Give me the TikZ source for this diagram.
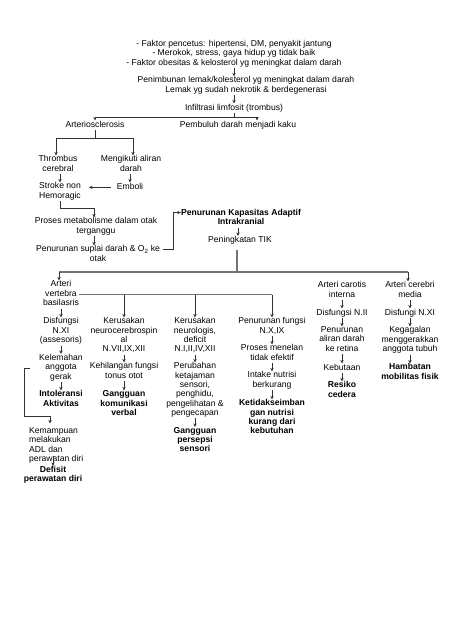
\documentclass[tikz,border=0pt]{standalone}
\usepackage{fontspec}
\setmainfont{Liberation Sans}
\usetikzlibrary{arrows.meta,calc}
\begin{document}
\begin{tikzpicture}[x=1pt,y=-1pt,
  t/.style={inner sep=0pt, align=center, anchor=north, font=\fontsize{8.6}{9.3}\selectfont,
            execute at begin node=\strut, execute at end node=\strut},
  tb/.style={t, font=\fontsize{8.6}{9.3}\selectfont\bfseries},
  ln/.style={draw=black!80, line width=0.7pt},
  bus/.style={draw=black!55, line width=1.1pt},
  arr/.style={ln, -{Stealth[length=3.6pt,width=3.4pt]}},
]
\fill[white] (0,0) rectangle (474,632);
\useasboundingbox (0,0) rectangle (474,632);

% top block
\node[t] (f1) at (234,40) {- Faktor pencetus: hipertensi, DM, penyakit jantung\\- Merokok, stress, gaya hidup yg tidak baik\\- Faktor obesitas \& kelosterol yg meningkat dalam darah};
\node[t] (pen) at (246,76.5) {Penimbunan lemak/kolesterol yg meningkat dalam darah\\Lemak yg sudah nekrotik \& berdegenerasi};
\node[t] (inf) at (234,103.5) {Infiltrasi limfosit (trombus)};
\node[t] (art) at (95,120.5) {Arteriosclerosis};
\node[t] (pem) at (238,120.5) {Pembuluh darah menjadi kaku};

\node[t] (thr) at (58,155.5) {Thrombus\\cerebral};
\node[t] (mng) at (131,155.5) {Mengikuti aliran\\darah};
\node[t] (str) at (60,182.5) {Stroke non\\Hemoragic};
\node[t] (emb) at (130,182.5) {Emboli};
\node[t] (pro) at (96,217.5) {Proses metabolisme dalam otak\\terganggu};
\node[t] (sup) at (98,245.5) {Penurunan suplai darah \& O\textsubscript{2} ke\\otak};
\node[tb] (kap) at (241,209) {Penurunan Kapasitas Adaptif\\Intrakranial};
\node[t] (tik) at (240,236) {Peningkatan TIK};

% lower columns
\node[t] (avb) at (61,280.5) {Arteri\\vertebra\\basilasris};
\node[t] (ds1) at (61,317.5) {Disfungsi\\N.XI\\(assesoris)};
\node[t] (kel) at (61,354) {Kelemahan\\anggota\\gerak};
\node[tb] (int) at (61,390.5) {Intoleransi\\Aktivitas};
\node[t, anchor=north west, align=left] (kem) at (29,427.5) {Kemampuan\\melakukan\\ADL dan\\perawatan diri};
\node[tb] (def) at (53,466) {Defisit\\perawatan diri};

\node[t] (kn) at (124,317.5) {Kerusakan\\neurocerebrospin\\al\\N.VII,IX,XII};
\node[t] (kh) at (124,362.5) {Kehilangan fungsi\\tonus otot};
\node[tb] (gk) at (124,390.5) {Gangguan\\komunikasi\\verbal};

\node[t] (kr) at (195,317.5) {Kerusakan\\neurologis,\\deficit\\N.I,II,IV,XII};
\node[t] (pb) at (195,362.5) {Perubahan\\ketajaman\\sensori,\\penghidu,\\pengelihatan \&\\pengecapan};
\node[tb] (gp) at (195,427) {Gangguan\\persepsi\\sensori};

\node[t] (pf) at (272,317.5) {Penurunan fungsi\\N.X,IX};
\node[t] (pm) at (272,344.5) {Proses menelan\\tidak efektif};
\node[t] (inn) at (272,371.5) {Intake nutrisi\\berkurang};
\node[tb] (ke) at (272,399.5) {Ketidakseimban\\gan nutrisi\\kurang dari\\kebutuhan};

\node[t] (ac) at (342,281.5) {Arteri carotis\\interna};
\node[t] (dn) at (342,308.5) {Disfungsi N.II};
\node[t] (pa) at (342,326.5) {Penurunan\\aliran darah\\ke retina};
\node[t] (kb) at (342,363.5) {Kebutaan};
\node[tb] (rc) at (342,381.5) {Resiko\\cedera};

\node[t] (am) at (410,281.5) {Arteri cerebri\\media};
\node[t] (df) at (410,308.5) {Disfungi N.XI};
\node[t] (kg) at (410,326.5) {Kegagalan\\menggerakkan\\anggota tubuh};
\node[tb] (hm) at (410,363.5) {Hambatan\\mobilitas fisik};

% coordinates
\coordinate (j0) at (234,117);
\coordinate (j1) at (95,138);
\coordinate (busL) at (59,272);
\coordinate (busR) at (408,272);

% connectors top
\draw[arr] (f1.south) -- (f1.south |- pen.north);
\draw[arr] (inf.north |- pen.south) -- (inf.north);
\draw[ln] (inf.south) -- (j0);
\draw[arr] (j0) -| (art.north);
\draw[arr] (j0) -| ([xshift=19pt]pem.north);
\draw[ln] (art.south) -- (j1);
\draw[arr] (j1) -| ([xshift=-2pt]thr.north);
\draw[arr] (j1) -| ([xshift=2pt]mng.north);
\draw[arr] (str.north |- thr.south) -- (str.north);
\draw[arr] (emb.north |- mng.south) -- (emb.north);
\draw[arr, shorten <=6pt, shorten >=8pt] (emb.west) -- (emb.west -| str.east);
\draw[arr] (str.south) -- ++(0,7) -| ([xshift=-2pt]pro.north);
\draw[arr] ([xshift=-2pt]pro.south) -- ([xshift=-2pt]pro.south |- sup.north);
\draw[arr, shorten <=3pt] ($(sup.north east)+(0,3.5)$) -- ++(13,0) |- ($(kap.north west)+(0,3.5)$);
\draw[arr] ([xshift=-2pt]tik.north |- kap.south) -- ([xshift=-2pt]tik.north);
\draw[bus, shorten <=4pt] ([xshift=-3pt]tik.south) -- ([xshift=-3pt]tik.south |- busL);
\draw[bus] (busL) -- (busR);
\draw[arr] (busL) -- (busL |- avb.north);
\draw[arr] (busR) -- (busR |- am.north);

% vertebra branch
\draw[bus] (avb.east) -- (avb.east -| pf.north);
\draw[arr] (avb.east -| kn.north) -- (kn.north);
\draw[arr] (avb.east -| kr.north) -- (kr.north);
\draw[arr] (avb.east -| pf.north) -- (pf.north);

% column 1
\draw[arr] (avb.south) -- (ds1.north);
\draw[arr] (ds1.south) -- (kel.north);
\draw[arr] (kel.south) -- (int.north);
\draw[arr, shorten >=4pt] ($(kel.west)+(-9,0)$) -- ++(-6,0) -- ++(0,48) -| ($(kem.north west)+(21,0)$);
\draw[arr] ($(def.north |- kem.south)+(0,-9)$) -- (def.north);

% column 2
\draw[arr] (kn.south) -- (kh.north);
\draw[arr] (kh.south) -- (gk.north);
% column 3
\draw[arr] (kr.south) -- (pb.north);
\draw[arr] (pb.south) -- (gp.north);
% column 4
\draw[arr] (pf.south) -- (pm.north);
\draw[arr] (pm.south) -- (inn.north);
\draw[arr] (inn.south) -- (ke.north);
% column 5
\draw[arr] (ac.south) -- (dn.north);
\draw[arr] (dn.south) -- (pa.north);
\draw[arr] (pa.south) -- (kb.north);
\draw[arr] (kb.south) -- (rc.north);
% column 6
\draw[arr] (am.south) -- (df.north);
\draw[arr] (df.south) -- (kg.north);
\draw[arr] (kg.south) -- (hm.north);
\end{tikzpicture}
\end{document}
